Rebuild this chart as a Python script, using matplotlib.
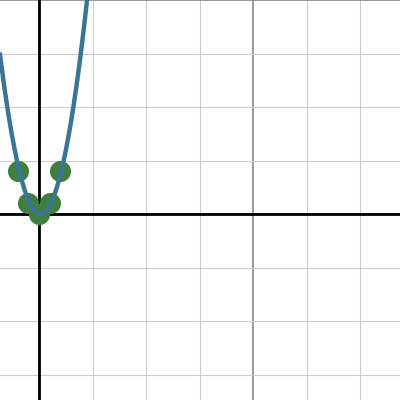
import numpy as np
import matplotlib
matplotlib.use("Agg")
import matplotlib.pyplot as plt

px = [-0.2, -0.1, 0.0, 0.1, 0.2]
py = [0.4, 0.1, 0.0, 0.1, 0.4]
coef_a = 10.5
coef_b = -0.26

fig = plt.figure(figsize=(4, 4), dpi=100)
ax = fig.add_axes([0, 0, 1, 1])
xmin, xmax = -39/107, 361/107
ymin, ymax = -186/107, 214/107
ax.set_xlim(xmin, xmax); ax.set_ylim(ymin, ymax)
for v in np.arange(-0.5, 3.6, 0.5):
    major = abs(v / 2 - round(v / 2)) < 1e-9
    ax.axvline(v, color='#888' if major else '#ccc', lw=1.2 if major else 0.8, zorder=0)
for v in np.arange(-2, 2.1, 0.5):
    major = abs(v / 2 - round(v / 2)) < 1e-9
    ax.axhline(v, color='#888' if major else '#ccc', lw=1.2 if major else 0.8, zorder=0)
ax.axhline(0, color='black', lw=2, zorder=1)
ax.axvline(0, color='black', lw=2, zorder=1)
ax.scatter(px, py, s=200, color='#3f7f3f', zorder=2)
xs = np.linspace(xmin, xmax, 800)
ax.plot(xs, coef_a * xs**2 + coef_b * xs, color='#3a7595', lw=3.2, zorder=3)
ax.set_xticks([]); ax.set_yticks([])
for s in ax.spines.values():
    s.set_visible(False)
fig.savefig('out.png', dpi=100)
